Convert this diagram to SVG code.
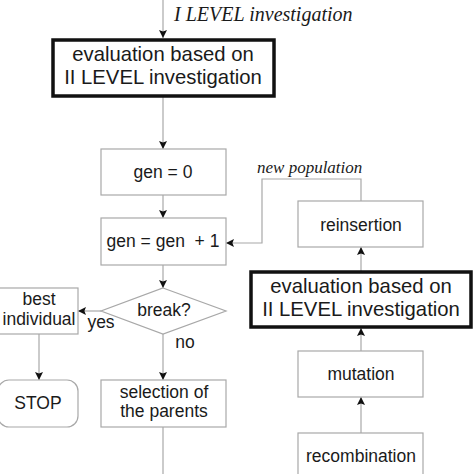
<svg xmlns="http://www.w3.org/2000/svg" width="474" height="474" viewBox="0 0 474 474">
<style>
.box{fill:#fff;stroke:#a8a8a8;stroke-width:1.2}
.thick{fill:#fff;stroke:#111;stroke-width:3.5}
.t{font-family:"Liberation Sans",Arial,sans-serif;font-size:17.5px;fill:#1a1a1a;text-anchor:middle}
.tb{font-family:"Liberation Sans",Arial,sans-serif;font-size:20.3px;fill:#1a1a1a;text-anchor:middle}
.it{font-family:"Liberation Serif","Times New Roman",serif;font-style:italic;fill:#1a1a1a}
.c{fill:none;stroke:#a8a8a8;stroke-width:1.2}
</style>
<defs>
<marker id="ah" viewBox="0 0 10 10" refX="10" refY="5" markerWidth="8" markerHeight="8" markerUnits="userSpaceOnUse" orient="auto">
<path d="M0,0 L10,5 L0,10 L2,5 Z" fill="#111"/>
</marker>
</defs>
<g id="connectors">
<path class="c" d="M163,0 V38" marker-end="url(#ah)"/>
<path class="c" d="M163,97 V149" marker-end="url(#ah)"/>
<path class="c" d="M163,195 V218" marker-end="url(#ah)"/>
<path class="c" d="M163,265 V288" marker-end="url(#ah)"/>
<path class="c" d="M101,311 H78" marker-end="url(#ah)"/>
<path class="c" d="M39,334 V380" marker-end="url(#ah)"/>
<path class="c" d="M163,334 V380" marker-end="url(#ah)"/>
<path class="c" d="M163,427 V474"/>
<path class="c" d="M361,474 V433"/>
<path class="c" d="M361,433 V397" marker-end="url(#ah)"/>
<path class="c" d="M361,351 V328" marker-end="url(#ah)"/>
<path class="c" d="M361,271 V247" marker-end="url(#ah)"/>
<path class="c" d="M361,201 V179 H262 V243 H226" marker-end="url(#ah)"/>
</g>
<g id="label-level1"><text class="it" x="174" y="21" font-size="20">I LEVEL investigation</text></g>
<g id="eval1">
<rect class="thick" x="53" y="40" width="221" height="56"/>
<text class="tb" x="163" y="61">evaluation based on</text>
<text class="tb" x="163" y="84">II LEVEL investigation</text>
</g>
<g id="gen0">
<rect class="box" x="101" y="149" width="125" height="46"/>
<text class="t" x="163" y="178">gen = 0</text>
</g>
<g id="genplus">
<rect class="box" x="101" y="218" width="125" height="47"/>
<text class="t" x="163" y="247" xml:space="preserve">gen = gen  + 1</text>
</g>
<g id="break">
<polygon points="163,288 226,311 163,334 101,311" fill="#fff" stroke="#a8a8a8" stroke-width="1.2"/>
<text class="t" x="164" y="316">break?</text>
</g>
<g id="label-yes"><text class="t" x="101" y="328">yes</text></g>
<g id="label-no"><text class="t" x="185" y="348">no</text></g>
<g id="best">
<rect class="box" x="-2" y="288" width="80" height="46"/>
<text class="t" x="39" y="305">best</text>
<text class="t" x="39" y="325">individual</text>
</g>
<g id="stop">
<rect class="box" x="-2" y="380" width="80" height="47" rx="11" ry="11"/>
<text class="t" x="38" y="409">STOP</text>
</g>
<g id="selection">
<rect class="box" x="101" y="380" width="125" height="47"/>
<text class="t" x="164" y="398">selection of</text>
<text class="t" x="164" y="417">the parents</text>
</g>
<g id="label-newpop"><text class="it" x="257" y="173" font-size="17">new population</text></g>
<g id="reinsertion">
<rect class="box" x="298" y="201" width="125" height="46"/>
<text class="t" x="361" y="231">reinsertion</text>
</g>
<g id="eval2">
<rect class="thick" x="251" y="272" width="220" height="55"/>
<text class="tb" x="361" y="293">evaluation based on</text>
<text class="tb" x="361" y="316">II LEVEL investigation</text>
</g>
<g id="mutation">
<rect class="box" x="298" y="351" width="125" height="46"/>
<text class="t" x="361" y="380">mutation</text>
</g>
<g id="recombination">
<rect class="box" x="298" y="433" width="125" height="50"/>
<text class="t" x="361" y="462">recombination</text>
</g>
</svg>
